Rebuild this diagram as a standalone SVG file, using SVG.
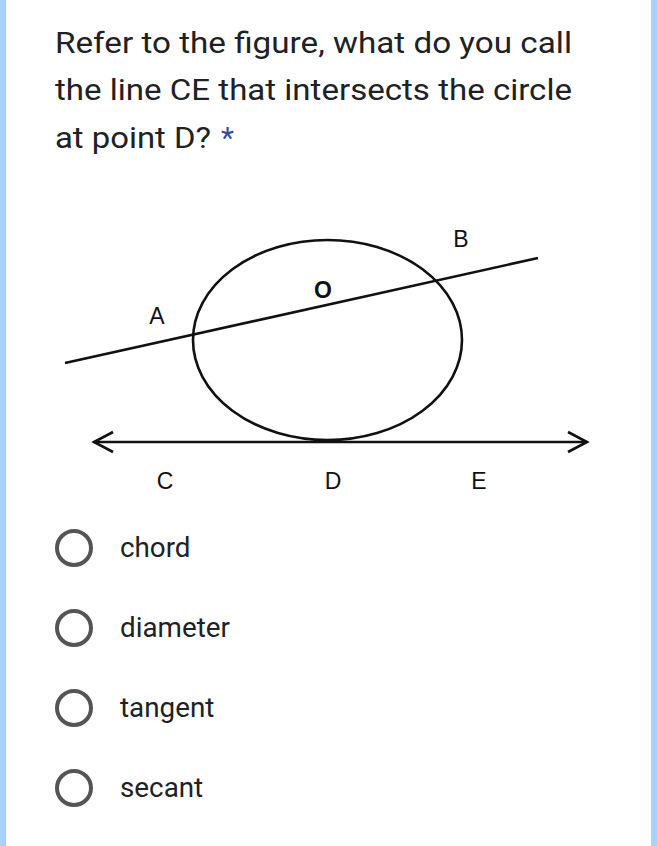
<svg xmlns="http://www.w3.org/2000/svg" width="657" height="846" viewBox="0 0 657 846">
  <style>
    .q { font-family: Roboto, "Noto Sans", "Liberation Sans", sans-serif; font-size: 30px; fill: #202124; }
    .req { fill: #3446b0; }
    .opt { font-family: Roboto, "Noto Sans", "Liberation Sans", sans-serif; font-size: 27.8px; fill: #202124; }
    .lbl { font-family: "Liberation Sans", Arial, sans-serif; font-size: 23px; fill: #111; text-anchor: middle; }
    .geo { fill: none; stroke: #111; stroke-width: 2.6; }
    .radio { fill: none; stroke: #555; stroke-width: 4; }
  </style>
  <rect x="0" y="0" width="657" height="846" fill="#ffffff"/>
  <rect x="0" y="0" width="6" height="846" fill="#a6d3f7"/>
  <rect x="651" y="0" width="6" height="846" fill="#a6d3f7"/>

  <g id="question">
    <text class="q" x="55" y="53" textLength="517" lengthAdjust="spacingAndGlyphs">Refer to the figure, what do you call</text>
    <text class="q" x="55" y="100" textLength="517" lengthAdjust="spacingAndGlyphs">the line CE that intersects the circle</text>
    <text class="q" x="55" y="148" textLength="156" lengthAdjust="spacingAndGlyphs">at point D?</text>
    <text class="q req" x="221" y="148" style="fill:#3446b0">*</text>
  </g>

  <g id="figure">
    <g id="circle">
      <ellipse class="geo" cx="327.5" cy="340" rx="134.5" ry="100"/>
    </g>
    <g id="connectors">
      <line class="geo" x1="65" y1="363" x2="538" y2="258"/>
      <line class="geo" x1="94" y1="442" x2="587" y2="442" stroke-width="2"/>
      <polyline class="geo" points="113,432 94,442 113,452" stroke-width="2"/>
      <polyline class="geo" points="568,432 587,442 568,452" stroke-width="2"/>
    </g>
    <g id="label-A"><text class="lbl" x="157" y="324">A</text></g>
    <g id="label-B"><text class="lbl" x="461" y="247">B</text></g>
    <g id="label-O"><text class="lbl" x="323" y="298" font-weight="bold" font-size="24">O</text></g>
    <g id="label-C"><text class="lbl" x="165" y="489">C</text></g>
    <g id="label-D"><text class="lbl" x="333" y="489">D</text></g>
    <g id="label-E"><text class="lbl" x="479" y="489">E</text></g>
  </g>

  <g id="option-chord">
    <circle class="radio" cx="74" cy="548" r="17"/>
    <text class="opt" x="120" y="557">chord</text>
  </g>
  <g id="option-diameter">
    <circle class="radio" cx="74" cy="628" r="17"/>
    <text class="opt" x="120" y="637">diameter</text>
  </g>
  <g id="option-tangent">
    <circle class="radio" cx="74" cy="708" r="17"/>
    <text class="opt" x="120" y="717">tangent</text>
  </g>
  <g id="option-secant">
    <circle class="radio" cx="74" cy="788" r="17"/>
    <text class="opt" x="120" y="797">secant</text>
  </g>
</svg>
